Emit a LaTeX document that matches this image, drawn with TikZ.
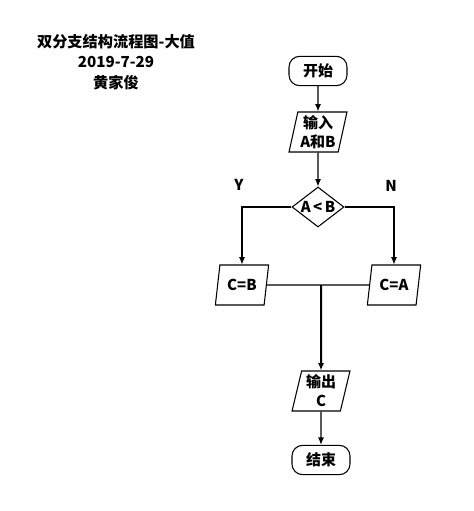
\documentclass[tikz,border=0pt]{standalone}
\usepackage{fontspec}
\setmainfont{Noto Sans CJK SC}
\usepackage{tikz}
\usetikzlibrary{arrows.meta,shapes.geometric,positioning}
\newcommand{\fsz}{\fontsize{11.25}{14.25}\selectfont\bfseries}
\tikzset{
  base/.style={draw=black,line width=0.8pt,font=\fsz,align=center},
  term/.style={base,rectangle,rounded corners=8pt,
               minimum width=43.5pt,minimum height=22pt},
  io/.style={base,trapezium,trapezium left angle=77,trapezium right angle=103,
             trapezium stretches=true,minimum width=43.5pt,minimum height=30pt,
             inner xsep=1pt,inner ysep=1pt},
  small io/.style={io,minimum width=40pt},
  decision/.style={base,diamond,aspect=1.3,inner sep=0pt,
                   minimum width=39pt,minimum height=30pt},
  lbl/.style={font=\fsz},
  flow/.style={-{Latex[length=5.5pt,width=4.5pt]},line width=0.8pt},
  main/.style={flow,line width=1.5pt},
}
\begin{document}
\begin{tikzpicture}[x=0.75pt,y=-0.75pt]
  \useasboundingbox (0,0) rectangle (474,511);

  % title
  \node[font=\fontsize{11.4}{13}\selectfont\bfseries,align=center] (title) at (116,62)
    {双分支结构流程图-大值\\[2.5pt]2019-7-29\\[2.5pt]黄家俊};

  % main column
  \node[term] (start) at (318,71) {开始};
  \node[io] (in) at (318,132) {输入\\A和B};
  \node[decision] (cmp) at (318,207) {A\,<\,B};
  \node[small io] (cb) at (242,285) {C=B};
  \node[small io] (ca) at (394,285) {C=A};
  \node[io] (out) at (321,391) {输出\\C};
  \node[term] (stop) at (321,460) {结束};

  \node[lbl] (yes) at (239,185) {Y};
  \node[lbl] (no) at (391,186) {N};
  \coordinate (join) at (321,285);

  \draw[flow] (start) -- (in);
  \draw[flow] (in) -- (cmp);
  \draw[flow] (cmp.west) -| (cb.north);
  \draw[flow] (cmp.east) -| (ca.north);
  \draw[line width=0.8pt] (cb.east) -- (ca.west);
  \draw[main] (join) -- (out.north);
  \draw[flow] (out) -- (stop);
\end{tikzpicture}
\end{document}
